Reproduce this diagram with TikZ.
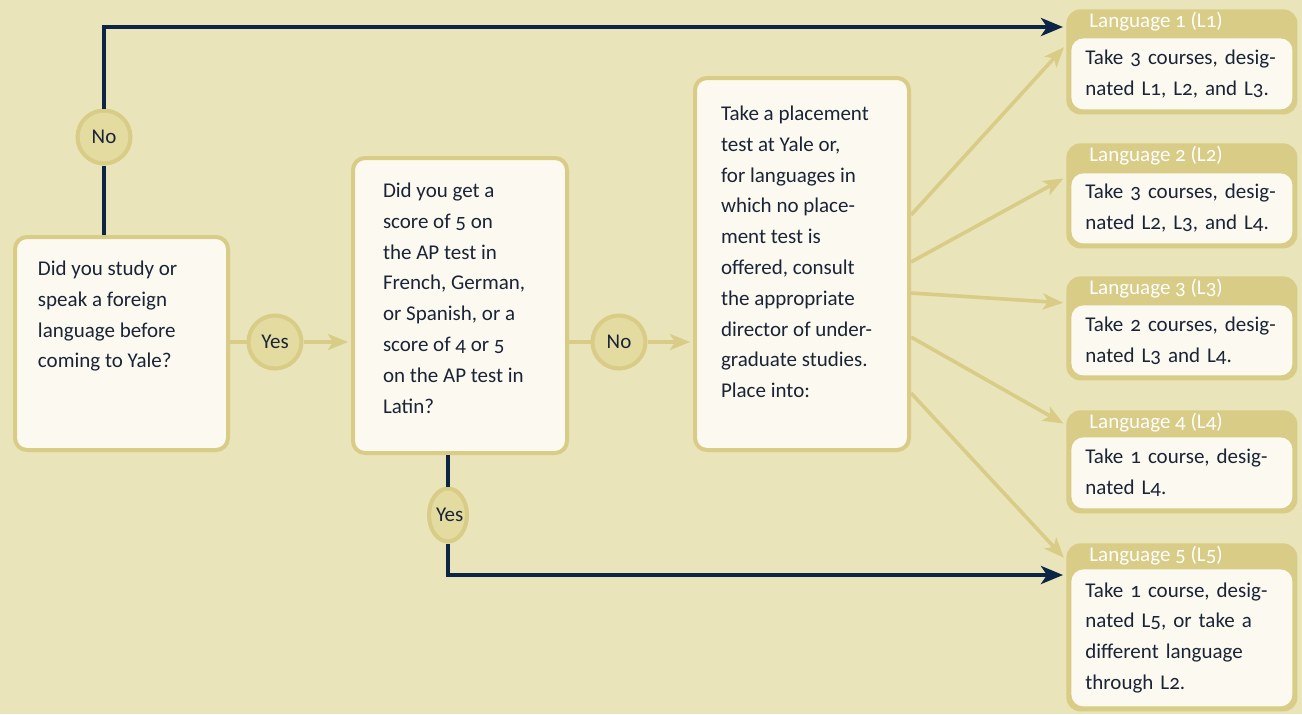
\documentclass[tikz,border=0pt]{standalone}
\usepackage{fontspec}
\setmainfont{Carlito}[Numbers=OldStyle]
\usepackage{tikz}
\usetikzlibrary{arrows.meta,positioning,calc,shapes.geometric}
\definecolor{paper}{HTML}{E9E4B9}
\definecolor{gold}{HTML}{D8CC86}
\definecolor{goldlight}{HTML}{E3DBA0}
\definecolor{cream}{HTML}{FCFAF0}
\definecolor{navy}{HTML}{0C2544}
\definecolor{ink}{HTML}{1A2436}
\newcommand{\qtext}[3]{\begin{minipage}[c][#2][t]{#1}\raggedright #3\end{minipage}}

\begin{document}
\begin{tikzpicture}[x=0.5pt,y=-0.5pt,
        every node/.style={font=\fontsize{10.5}{15.4}\selectfont,text=ink},
        qbox/.style={draw=gold,fill=cream,line width=2pt,rounded corners=6pt},
        lab/.style={circle,draw=gold,fill=goldlight,line width=2pt,minimum size=26.5pt,inner sep=0pt},
        labtall/.style={ellipse,draw=gold,fill=goldlight,line width=2pt,minimum width=19pt,minimum height=26.5pt,inner sep=0pt,text width=12pt,align=center},
        lanbox/.style={anchor=north west,fill=gold,rounded corners=7pt,minimum width=115.5pt,inner sep=0pt},
        lanbody/.style={fill=cream,rounded corners=6pt,minimum width=110.5pt,text width=96.5pt,inner xsep=7pt,inner ysep=0pt,align=left},
        lanhead/.style={anchor=west,text=white,inner sep=0pt},
        navyline/.style={draw=navy,line width=2pt},
        goldline/.style={draw=gold,line width=1.8pt},
        navytip/.style={-{Stealth[length=11pt,width=9pt,inset=3pt]},shorten >=1.5pt},
        goldtip/.style={-{Stealth[length=10pt,width=8pt,inset=2.5pt]},shorten >=1.5pt}]
                % background
                \useasboundingbox (0,0) rectangle (1302,714);
                \fill[paper] (0,0) rectangle (1302,714);
                % question boxes
                \node[qbox,inner xsep=11.5pt,inner ysep=12pt] (q1) at (121.5,343.5)
                        {\qtext{83.5pt}{82.5pt}{Did you study or\\speak a foreign\\language before\\coming to Yale?}};
                \node[qbox,inner xsep=15pt,inner ysep=12.5pt] (q2) at (460,305.5)
                        {\qtext{77pt}{122.5pt}{Did you get a\\score of 5 on\\the AP test in\\French, German,\\or Spanish, or a\\score of 4 or 5\\on the AP test in\\Latin?}};
                \node[qbox,inner xsep=13pt,inner ysep=14pt] (q3) at (802,264)
                        {\qtext{81pt}{158pt}{Take a placement\\test at Yale or,\\for languages in\\which no place-\\ment test is\\offered, consult\\the appropriate\\director of under-\\graduate studies.\\Place into:}};
                % answer labels
                \node[lab] (no1) at (104,137) {No};
                \node[lab] (yes1) at (275,342) {Yes};
                \node[lab] (no2) at (619,342) {No};
                \node[labtall] (yes2) at (448,515) {Yes};
                % language boxes
                \foreach \i/\top/\h/\hb/\txt in {
                        1/9/105/71/{Take 3 courses, desig-\\nated L1, L2, and L3.},
                        2/143/105/70/{Take 3 courses, desig-\\nated L2, L3, and L4.},
                        3/276/104/70/{Take 2 courses, desig-\\nated L3 and L4.},
                        4/410/103/71/{Take 1 course, desig-\\nated L4.},
                        5/543/168/137/{Take 1 course, desig-\\nated L5, or take a\\different language\\through L2.}}
                {
                        \node[lanbox,minimum height=\h*0.5pt] (l\i) at (1066,\top) {};
                        \node[lanbody,minimum height=\hb*0.5pt,above=2.5pt of l\i.south] (b\i) {\txt};
                        \node[lanhead] (h\i) at ([xshift=11.5pt,yshift=-6.5pt]l\i.north west) {Language \i\ (L\i)};
                }
                \coordinate (in1) at ([yshift=-9pt]l1.north west);
                \coordinate (in5) at ([yshift=-16pt]l5.north west);
                % dark paths
                \draw[navyline] (no1) -- (no1 |- q1.north);
                \draw[navyline,navytip] (no1) |- (in1);
                \draw[navyline] (q2.south -| yes2) -- (yes2);
                \draw[navyline,navytip] (yes2) |- (in5);
                % gold paths
                \draw[goldline] (q1.east |- yes1) -- (yes1);
                \draw[goldline,goldtip] (yes1) -- (yes1 -| q2.west);
                \draw[goldline] (q2.east |- no2) -- (no2);
                \draw[goldline,goldtip] (no2) -- (no2 -| q3.west);
                \foreach \i/\src/\dst in {1/24.5pt/-18pt,2/1pt/-17pt,3/-14.5pt/-13.5pt,4/-36.5pt/-7.5pt,5/-64.5pt/-8.5pt}
                \draw[goldline,goldtip] ([yshift=\src]q3.east) -- ([yshift=\dst]l\i.north west);
\end{tikzpicture}
\end{document}
